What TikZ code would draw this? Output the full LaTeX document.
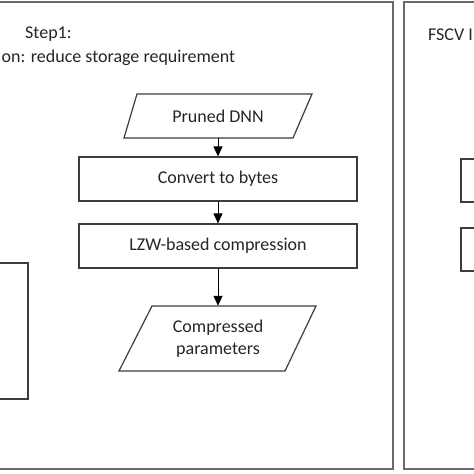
\documentclass[tikz,border=0pt]{standalone}
\usepackage{fontspec}
\setmainfont{Carlito}
\usetikzlibrary{arrows.meta}
\definecolor{panelc}{HTML}{6A6A6A}
\definecolor{boxc}{HTML}{3C3C3C}
\definecolor{txtc}{HTML}{262626}
\tikzset{
  panel/.style={draw=panelc, line width=1.6pt},
  shapeline/.style={draw=boxc, line width=1.2pt},
  procbox/.style={shapeline, minimum width=278pt, minimum height=44pt, text=txtc, font=\fontsize{18}{22}\selectfont},
  iotext/.style={text=txtc, font=\fontsize{18}{22}\selectfont, align=center, inner sep=0pt, minimum width=150pt},
  flow/.style={draw=black, line width=1pt, -{Triangle[width=9pt,length=10pt]}},
  label/.style={text=txtc, font=\fontsize{18}{22}\selectfont, inner sep=0pt},
}
\begin{document}
\begin{tikzpicture}[x=1pt,y=-1pt]
\useasboundingbox (0,0) rectangle (474,474);
\clip (0,0) rectangle (474,474);
\fill[white] (0,0) rectangle (474,474);
% panels
\draw[panel] (-20,2) rectangle (393,469);
\draw[panel] (404,2) rectangle (500,469);
% partial boxes at the edges
\draw[shapeline] (-20,263) rectangle (28,399);
\draw[shapeline] (461,159) rectangle (500,202);
\draw[shapeline] (461,228) rectangle (500,271);
% texts
\node[label, anchor=base west] (t1) at (25,38) {Step1:};
\node[label, anchor=base west] (t2) at (1.5,62) {on: reduce storage requirement};
\node[label, anchor=base west] (t3) at (428,40) {FSCV I};
% flow
\node[iotext, minimum height=44pt] (pr) at (218,116) {Pruned DNN};
\draw[shapeline] (137,94) -- (312,94) -- (293,138) -- (124,138) -- cycle;
\node[procbox] (cv) at (218,179) {Convert to bytes};
\node[procbox] (lz) at (218,246) {LZW-based compression};
\node[iotext, minimum height=65pt] (cp) at (218,338.5) {Compressed\\parameters};
\draw[shapeline] (152,306) -- (316,306) -- (285,371) -- (119,371) -- cycle;
\draw[flow] (pr) -- (cv);
\draw[flow] (cv) -- (lz);
\draw[flow] (lz) -- (cp);
\end{tikzpicture}
\end{document}
